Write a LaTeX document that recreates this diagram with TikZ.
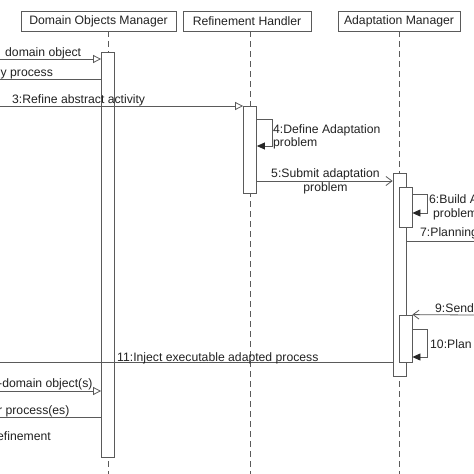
\documentclass[tikz,border=0pt]{standalone}
\usepackage{fontspec}
\setmainfont{Liberation Sans}
\usetikzlibrary{arrows.meta}
\definecolor{ln}{HTML}{5A5A5A}
\definecolor{tx}{HTML}{222222}
\begin{document}
\begin{tikzpicture}[x=1pt,y=-1pt,
  font=\fontsize{12.2}{14}\selectfont,
  head/.style={draw=ln, fill=white, line width=0.8pt, inner sep=0pt, minimum height=20pt, text=tx},
  act/.style={draw=ln, fill=white, line width=0.8pt, inner sep=0pt, minimum width=13pt},
  life/.style={draw=ln, line width=0.8pt, dash pattern=on 6pt off 4pt},
  msg/.style={draw=ln, line width=0.8pt},
  lbl/.style={text=tx, inner sep=0pt, anchor=base west},
  clbl/.style={text=tx, inner sep=0pt, anchor=base},
  opentri/.style={-{Triangle[open, length=8pt, width=8pt]}},
  veetip/.style={-{Straight Barb[length=6pt, width=9pt]}},
  filltri/.style={-{Triangle[length=8pt, width=7pt, color=black!85, fill=black!85]}}
]
\useasboundingbox (0,0) rectangle (474,474);
\clip (0,0) rectangle (474,474);
\fill[white] (0,0) rectangle (474,474);

% headers
\node[head, minimum width=155pt] (hD) at (98.5,21) {Domain Objects Manager};
\node[head, minimum width=128pt] (hR) at (247,21) {Refinement Handler};
\node[head, minimum width=122pt] (hA) at (399,21) {Adaptation Manager};

% lifelines
\coordinate (dTop) at (108.5,31); \coordinate (dBot) at (108.5,474);
\coordinate (rTop) at (250.5,31); \coordinate (rBot) at (250.5,474);
\coordinate (aTop) at (399.5,31); \coordinate (aBot) at (399.5,474);
\draw[life] (dTop) -- (dBot);
\draw[life] (rTop) -- (rBot);
\draw[life] (aTop) -- (aBot);

% activations
\node[act, minimum height=405pt] (dAct) at (108,254.5) {};
\node[act, minimum height=87pt] (rAct) at (250,149.5) {};
\node[act, minimum height=203pt] (aAct) at (399.5,274.5) {};
\node[act, minimum height=40pt] (n1) at (405.5,207) {};
\node[act, minimum height=47pt] (n2) at (405.5,338.5) {};

% message coordinates
\coordinate (m1) at (0,59);
\coordinate (m2) at (0,79);
\coordinate (m3) at (0,106);
\coordinate (s4a) at (272,119); \coordinate (s4b) at (272,146);
\coordinate (m5) at (0,181);
\coordinate (s6a) at (427,194); \coordinate (s6b) at (427,213);
\coordinate (m7) at (474,241);
\coordinate (m9) at (474,315);
\coordinate (s10a) at (427,329); \coordinate (s10b) at (427,357);
\coordinate (m11) at (0,362);
\coordinate (m12) at (0,391);
\coordinate (m13) at (0,417);

% messages
\draw[msg, opentri] (m1) -- (m1 -| dAct.west);
\draw[msg] (m2) -- (m2 -| dAct.west);
\draw[msg, opentri] (m3) -- (m3 -| rAct.west);
\draw[msg, filltri] (s4a -| rAct.east) -- (s4a) -- (s4b) -- (s4b -| rAct.east);
\draw[msg, veetip] (m5 -| rAct.east) -- (m5 -| aAct.west);
\draw[msg, filltri] (s6a -| n1.east) -- (s6a) -- (s6b) -- (s6b -| n1.east);
\draw[msg] (m7 -| aAct.east) -- (m7);
\draw[msg, veetip] (m9) -- (n2.north east);
\draw[msg, filltri] (s10a -| n2.east) -- (s10a) -- (s10b) -- (s10b -| n2.east);
\draw[msg] (m11 -| aAct.west) -- (m11);
\draw[msg, opentri] (m12) -- (m12 -| dAct.west);
\draw[msg] (m13) -- (m13 -| dAct.west);

% labels
\node[lbl] (t1) at (5,56) {domain object};
\node[lbl] (t2) at (0.5,76) {y process};
\node[lbl] (t3) at (12,103.3) {3:Refine abstract activity};
\node[lbl] (t4a) at (273,133) {4:Define Adaptation};
\node[lbl] (t4b) at (273,146) {problem};
\node[clbl] (t5a) at (325.5,177.5) {5:Submit adaptation};
\node[clbl] (t5b) at (325.5,191) {problem};
\node[lbl] (t6a) at (429,203) {6:Build A};
\node[lbl] (t6b) at (433,217) {problem};
\node[lbl] (t7) at (420,236.7) {7:Planning};
\node[lbl] (t9) at (435,312.3) {9:Send};
\node[lbl] (t10) at (430,348.3) {10:Plan};
\node[lbl] (t11) at (117,361) {11:Inject executable adapted process};
\node[lbl] (t12) at (-2,387.3) {-domain object(s)};
\node[lbl] (t13) at (-2,414.3) {r process(es)};
\node[lbl] (t14) at (-3,440) {efinement};
\end{tikzpicture}
\end{document}
